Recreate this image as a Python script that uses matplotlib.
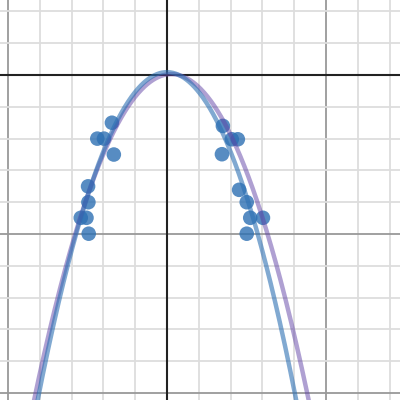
import numpy as np
import matplotlib
matplotlib.use("Agg")
import matplotlib.pyplot as plt

# data points (grid units)
pts_x = [-1.73, -2.19, -1.98, -1.67, -2.48, -2.47, -2.71, -2.53, -2.46,
         1.76, 2.04, 2.23, 1.73, 2.27, 2.51, 2.62, 3.02, 2.51]
pts_y = [-1.50, -2.00, -2.00, -2.50, -3.50, -4.00, -4.49, -4.49, -4.99,
         -1.60, -2.02, -2.02, -2.49, -3.61, -4.00, -4.49, -4.49, -4.99]

# two fitted parabolas: y = top - k * (x - h)^2
blue_top, blue_h, blue_k = 0.09, 0.0, 0.624
purple_top, purple_h, purple_k = 0.03, 0.14, 0.55

x_min, x_max = -5.25, 7.33
y_min, y_max = -10.22, 2.36

fig = plt.figure(figsize=(4, 4), dpi=100)
ax = fig.add_axes([0, 0, 1, 1])
ax.set_xlim(x_min, x_max)
ax.set_ylim(y_min, y_max)
ax.axis('off')

# grid: minor every unit, major every 5
for gx in range(-5, 8):
    col, lw = ('#999999', 1.3) if gx % 5 == 0 else ('#dddddd', 1.3)
    if gx == 0:
        continue
    ax.axvline(gx, color=col, lw=lw, zorder=0)
for gy in range(-10, 3):
    col, lw = ('#999999', 1.3) if gy % 5 == 0 else ('#dddddd', 1.3)
    if gy == 0:
        continue
    ax.axhline(gy, color=col, lw=lw, zorder=0)
ax.axvline(0, color='#222222', lw=1.5, zorder=1)
ax.axhline(0, color='#222222', lw=1.5, zorder=1)

ax.scatter(pts_x, pts_y, s=110, color='#2d70b3', alpha=0.8,
           edgecolors='none', zorder=2)

xs = np.linspace(x_min, x_max, 600)
ax.plot(xs, purple_top - purple_k * (xs - purple_h) ** 2,
        color='#6042a6', alpha=0.5, lw=3.2, zorder=3)
ax.plot(xs, blue_top - blue_k * (xs - blue_h) ** 2,
        color='#2d70b3', alpha=0.6, lw=3.2, zorder=4)

fig.savefig('out.png', dpi=100)
